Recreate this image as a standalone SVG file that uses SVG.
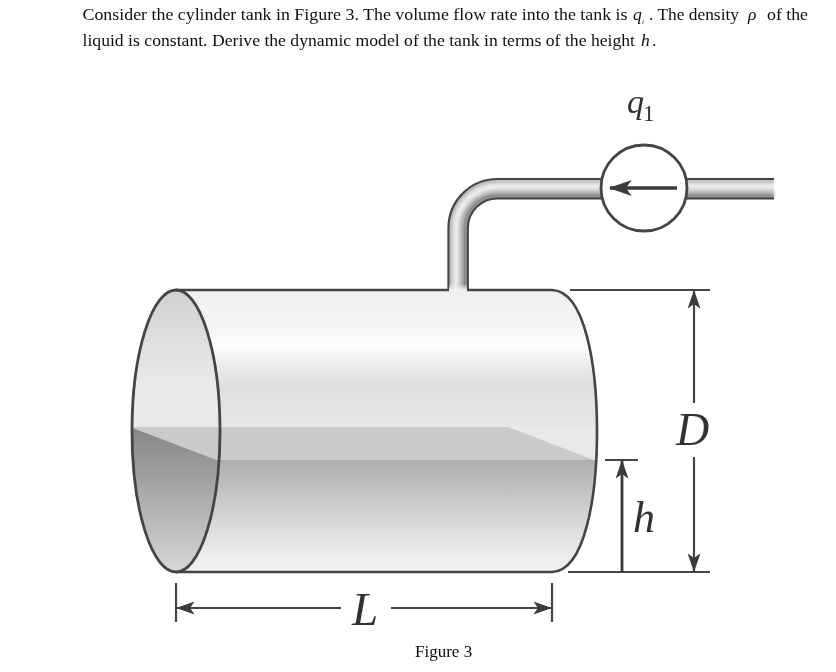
<svg xmlns="http://www.w3.org/2000/svg" width="836" height="672" viewBox="0 0 836 672">
<style>
.t{font-family:"Liberation Serif","Times New Roman",serif;fill:#111}
.p{font-size:17.6px}
.i{font-style:italic}
.v{font-family:"Liberation Serif","Times New Roman",serif;font-style:italic;fill:#333}
.o{fill:none;stroke:#444;stroke-width:2.6}
.d{fill:none;stroke:#444;stroke-width:2.2}
</style>
<defs>
<filter id="soft" x="-5%" y="-5%" width="110%" height="110%"><feGaussianBlur stdDeviation="0.45"/></filter>
<filter id="softP" x="-5%" y="-5%" width="110%" height="110%"><feGaussianBlur stdDeviation="0.9"/></filter>
<filter id="softT" x="-5%" y="-20%" width="110%" height="140%"><feGaussianBlur stdDeviation="0.25"/></filter>
<linearGradient id="body" gradientUnits="userSpaceOnUse" x1="0" y1="290" x2="0" y2="572">
<stop offset="0" stop-color="#eeefef"/><stop offset="0.14" stop-color="#f5f6f6"/><stop offset="0.2" stop-color="#fdfdfd"/><stop offset="0.27" stop-color="#eaebeb"/><stop offset="0.34" stop-color="#dddede"/><stop offset="0.41" stop-color="#e2e3e4"/><stop offset="0.486" stop-color="#e6e7e8"/>
</linearGradient>
<linearGradient id="liq" gradientUnits="userSpaceOnUse" x1="0" y1="460" x2="0" y2="572">
<stop offset="0" stop-color="#adaeb0"/><stop offset="0.45" stop-color="#cfd0d1"/><stop offset="0.85" stop-color="#eceded"/><stop offset="1" stop-color="#f0f1f1"/>
</linearGradient>
<linearGradient id="endTop" gradientUnits="userSpaceOnUse" x1="0" y1="290" x2="0" y2="460">
<stop offset="0" stop-color="#d0d1d3"/><stop offset="0.5" stop-color="#e6e7e8"/><stop offset="1" stop-color="#e9eaeb"/>
</linearGradient>
<linearGradient id="endLiq" gradientUnits="userSpaceOnUse" x1="0" y1="430" x2="0" y2="572">
<stop offset="0" stop-color="#88898b"/><stop offset="0.3" stop-color="#9d9ea0"/><stop offset="1" stop-color="#d6d7d8"/>
</linearGradient>
<linearGradient id="neck" gradientUnits="userSpaceOnUse" x1="0" y1="284" x2="0" y2="294">
<stop offset="0" stop-color="#eeefef" stop-opacity="0"/><stop offset="0.6" stop-color="#eeefef"/>
</linearGradient>
<clipPath id="endClip"><ellipse cx="176" cy="431" rx="44" ry="141"/></clipPath>
<clipPath id="bodyClip"><path d="M176 290H552C585 291 597 365 597 431C597 497 585 571 552 572H176Z"/></clipPath>
<marker id="ah" viewBox="0 0 20 14" refX="19" refY="7" markerWidth="19" markerHeight="13" markerUnits="userSpaceOnUse" orient="auto-start-reverse">
<path d="M0 0L20 7L0 14L5 7Z" fill="#3a3a3a"/>
</marker>
<marker id="ahBig" viewBox="0 0 20 14" refX="19" refY="7" markerWidth="27" markerHeight="16" markerUnits="userSpaceOnUse" orient="auto-start-reverse">
<path d="M0 0L20 7L0 14L5 7Z" fill="#3a3a3a"/>
</marker>
</defs>
<rect width="836" height="672" fill="#fff"/>
<g id="question" filter="url(#softT)">
<text class="t p" x="82.5" y="20" textLength="545" lengthAdjust="spacingAndGlyphs">Consider the cylinder tank in Figure 3. The volume flow rate into the tank is</text>
<text class="t p i" x="633" y="20">q</text>
<text class="t i" x="642" y="24" font-size="7">i</text>
<text class="t p" x="649" y="20" textLength="90" lengthAdjust="spacingAndGlyphs">. The density</text>
<text class="t p i" x="748" y="20">ρ</text>
<text class="t p" x="767" y="20" textLength="41" lengthAdjust="spacingAndGlyphs">of the</text>
<text class="t p" x="82.5" y="46" textLength="552.5" lengthAdjust="spacingAndGlyphs">liquid is constant. Derive the dynamic model of the tank in terms of the height</text>
<text class="t p i" x="641" y="46">h</text>
<text class="t p" x="652" y="46">.</text>
</g>
<g id="pipe">
<g fill="none" filter="url(#softP)">
<path stroke="#b4b5b6" stroke-width="3.6" d="M450.5 290V228A47 47 0 0 1 497.5 181H605M680 181H774"/>
<path stroke="#dcdddd" stroke-width="3.2" d="M453.5 290V228A44 44 0 0 1 497.5 184H605M680 184H774"/>
<path stroke="#eeeeee" stroke-width="3.2" d="M456.5 290V228A41 41 0 0 1 497.5 187H605M680 187H774"/>
<path stroke="#cfd0d1" stroke-width="3.2" d="M459.5 290V228A38 38 0 0 1 497.5 190H605M680 190H774"/>
<path stroke="#a8a9aa" stroke-width="3.2" d="M462.5 290V228A35 35 0 0 1 497.5 193H605M680 193H774"/>
<path stroke="#78797b" stroke-width="3" d="M465.5 290V228A32 32 0 0 1 497.5 196H605M680 196H774"/>
</g>
<g fill="none" stroke="#444" stroke-width="2.2" filter="url(#soft)">
<path d="M448.5 290V228A49 49 0 0 1 497.5 179H605M680 179H774"/>
<path d="M467.8 290V228A29.7 29.7 0 0 1 497.5 198.3H605M680 198.3H774"/>
</g>
</g>
<g id="tank" filter="url(#soft)">
<g clip-path="url(#bodyClip)">
<rect x="170" y="288" width="430" height="140" fill="url(#body)"/>
<rect x="170" y="427" width="430" height="33" fill="#e8e9ea"/>
<path d="M170 427H508L594 460H170Z" fill="#c9cacb"/>
<rect x="170" y="460" width="430" height="113" fill="url(#liq)"/>
</g>
<path class="o" d="M176 290H449M467 290H552C585 291 597 365 597 431C597 497 585 571 552 572H176"/>
<g clip-path="url(#endClip)">
<rect x="130" y="288" width="92" height="175" fill="url(#endTop)"/>
<path d="M130 427H222V462Z" fill="#c9cacb"/>
<path d="M130 427L222 462V575H130Z" fill="url(#endLiq)"/>
</g>
<ellipse cx="176" cy="431" rx="44" ry="141" fill="none" stroke="#444" stroke-width="2.8"/>
<rect x="449" y="284" width="18" height="10" fill="url(#neck)"/>
</g>
<g id="flow-meter" filter="url(#soft)">
<circle cx="644" cy="188" r="43" fill="#fff" stroke="#444" stroke-width="2.8"/>
<line x1="677" y1="188" x2="610" y2="188" stroke="#3a3a3a" stroke-width="3.4" marker-end="url(#ahBig)"/>
<text class="v" x="627" y="113" font-size="34">q</text>
<text class="v" x="643" y="121" font-size="23" style="font-style:normal">1</text>
</g>
<g id="connectors" filter="url(#soft)">
<path class="d" d="M570 290H710M568 572H710M605 460H638M176 583V622M552 583V622"/>
<line class="d" x1="694" y1="403" x2="694" y2="291" marker-end="url(#ah)"/>
<line class="d" x1="694" y1="457" x2="694" y2="571" marker-end="url(#ah)"/>
<line x1="622" y1="572" x2="622" y2="461" stroke="#3a3a3a" stroke-width="2.8" marker-end="url(#ah)"/>
<line class="d" x1="341" y1="608" x2="177" y2="608" marker-end="url(#ah)"/>
<line class="d" x1="391" y1="608" x2="551" y2="608" marker-end="url(#ah)"/>
</g>
<g id="dimension-labels" filter="url(#softT)">
<text class="v" x="676" y="445" font-size="46">D</text>
<text class="v" x="633" y="532" font-size="44">h</text>
<text class="v" x="352" y="625" font-size="47">L</text>
</g>
<text id="caption" class="t" x="415" y="657" font-size="17" filter="url(#softT)">Figure 3</text>
</svg>
